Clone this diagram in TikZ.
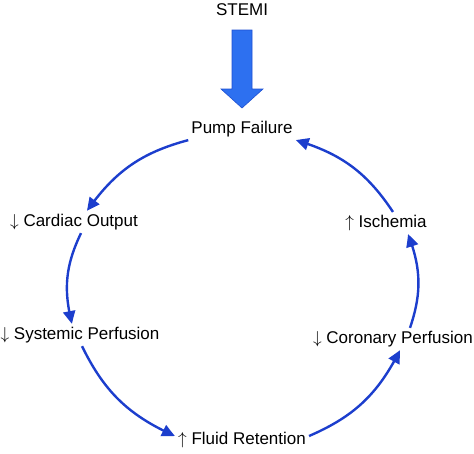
\documentclass[tikz,border=0pt]{standalone}
\usepackage{fontspec}
\setmainfont{Liberation Sans}
\usepackage{tikz}
\usetikzlibrary{arrows.meta, bending}
\definecolor{loopblue}{RGB}{28,62,205}
\definecolor{bigfill}{RGB}{45,112,240}
\definecolor{bigedge}{RGB}{30,80,210}
\newcommand{\decr}{$\downarrow$}
\newcommand{\incr}{$\uparrow$}
\tikzset{
 cause/.style = {
    inner sep=3pt,
    font=\fontsize{17}{20}\selectfont},
 line/.style = {
    draw=loopblue, line width=2.4pt,
    -{Triangle[length=13pt,width=12pt,bend]}},
 cycle arc/.style = {
    bend right=20},
}
\begin{document}
\begin{tikzpicture}[x=1pt, y=-1pt]
                            \useasboundingbox (0,0) rectangle (474,453);

                            % Place nodes
                            \node [cause] (stemi)    at (242,10)  {STEMI};
                            \node [cause] (pump)     at (242,129) {Pump Failure};
                            \node [cause] (cardiac)  at (74,222)  {\decr\ Cardiac Output};
                            \node [cause] (systemic) at (80,335)  {\decr\ Systemic Perfusion};
                            \node [cause] (fluid)    at (242,440) {\incr\ Fluid Retention};
                            \node [cause] (coronary) at (393,339) {\decr\ Coronary Perfusion};
                            \node [cause] (ischemia) at (386,223) {\incr\ Ischemia};

                            % Block arrow
                            \filldraw [fill=bigfill, draw=bigedge, line width=0.6pt]
                                (232,30) -- (252,30) -- (252,89) -- (263,89) -- (242,108)
                                -- (221,89) -- (232,89) -- cycle;

                        \path [line] (pump.south west) to [cycle arc] ([xshift=13pt]cardiac.north);
                        \path [line] ([xshift=7pt]cardiac.south) to [cycle arc] ([xshift=-8pt]systemic.north);
                        \path [line] ([xshift=2pt]systemic.south) to [cycle arc] ([yshift=4pt]fluid.west);
                        \path [line] ([yshift=4pt]fluid.east) to [cycle arc] ([xshift=7pt]coronary.south);
                        \path [line] ([xshift=17pt]coronary.north) to [cycle arc] ([xshift=22pt]ischemia.south);
                        \path [line] ([xshift=7pt]ischemia.north) to [cycle arc] (pump.south east);

                        \end{tikzpicture}
\end{document}
